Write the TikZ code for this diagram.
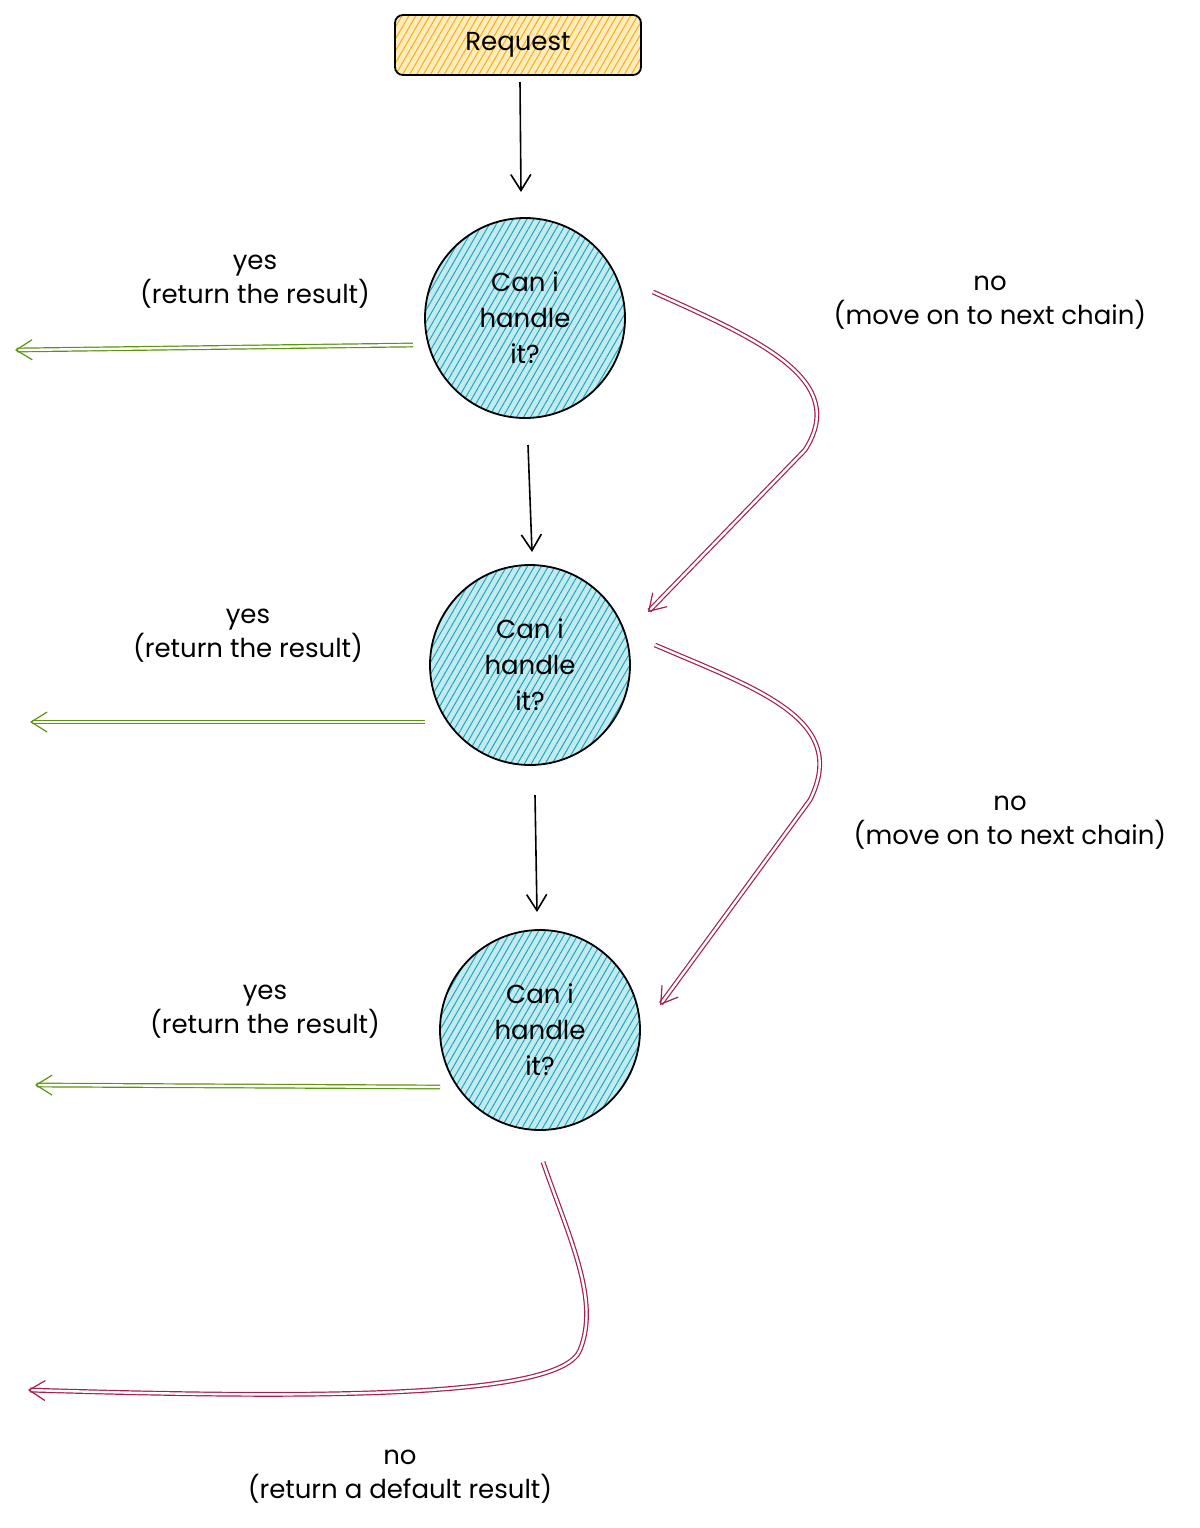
\documentclass[tikz,border=0pt]{standalone}
\usepackage{fontspec}
\setmainfont{Poppins}
\usetikzlibrary{patterns,patterns.meta,arrows.meta}
\definecolor{req}{HTML}{FAB005}
\definecolor{cy}{HTML}{15AABF}
\definecolor{gr}{HTML}{5C940D}
\definecolor{rd}{HTML}{A61E4D}
\tikzset{
  x=0.5pt,y=-0.5pt,
  hatch/.style={preaction={fill=#1!25},pattern={Lines[angle=60,distance=3pt,line width=0.5pt]},pattern color=#1},
  circ/.style={circle,draw=black,line width=0.9pt,minimum size=100pt,hatch=cy,align=center,font=\fontsize{13}{18}\selectfont},
  lbl/.style={align=center,font=\fontsize{13}{17}\selectfont},
  arr/.style={-{Straight Barb[length=8pt,width=10pt]},line width=0.8pt},
  garr/.style={arr,draw=gr,double=white,double distance=1.2pt,line width=0.6pt},
  rarr/.style={arr,draw=rd,double=white,double distance=1.2pt,line width=0.6pt},
}
\begin{document}
\begin{tikzpicture}
\useasboundingbox (0,0) rectangle (1200,1528);
\node[draw=black,line width=0.9pt,rounded corners=4pt,hatch=req,minimum width=123pt,minimum height=30pt,font=\fontsize{13}{16}\selectfont] (req) at (518,45) {Request};
\node[circ] (c1) at (525,318) {Can i\\handle\\it?};
\node[circ] (c2) at (530,665) {Can i\\handle\\it?};
\node[circ] (c3) at (540,1030) {Can i\\handle\\it?};
\coordinate (g1s) at (413,345); \coordinate (g1) at (15,350);
\coordinate (g2s) at (425,722); \coordinate (g2) at (30,722);
\coordinate (g3s) at (440,1087); \coordinate (g3) at (35,1085);
\coordinate (r1s) at (653,292); \coordinate (r1) at (648,612);
\coordinate (r2s) at (655,645); \coordinate (r2) at (660,1005);
\coordinate (r3s) at (543,1162); \coordinate (d) at (28,1390);
\draw[arr] (520,82) -- (521,192);
\draw[arr] (528,445) -- (532,552);
\draw[arr] (535,795) -- (537,912);
\draw[garr] (g1s) -- (g1);
\draw[garr] (g2s) -- (g2);
\draw[garr] (g3s) -- (g3);
\draw[rarr] (r1s) .. controls (760,340) and (850,380) .. (805,450) -- (r1);
\draw[rarr] (r2s) .. controls (760,690) and (850,720) .. (810,800) -- (r2);
\draw[rarr] (r3s) .. controls (570,1240) and (600,1300) .. (580,1350) .. controls (560,1400) and (300,1398) .. (d);
\node[lbl] at (255,282) {yes\\(return the result)};
\node[lbl] at (248,636) {yes\\(return the result)};
\node[lbl] at (265,1012) {yes\\(return the result)};
\node[lbl] at (990,303) {no\\(move on to next chain)};
\node[lbl] at (1010,823) {no\\(move on to next chain)};
\node[lbl] at (400,1477) {no\\(return a default result)};
\end{tikzpicture}
\end{document}
